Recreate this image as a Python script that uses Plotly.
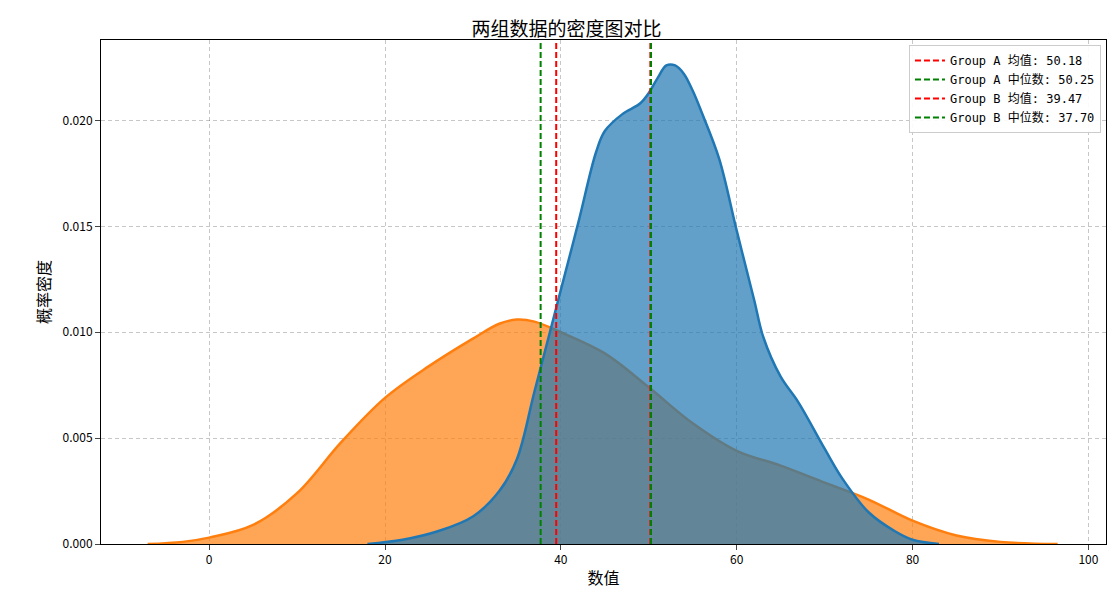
import plotly.graph_objects as go

# density curves
a_x = [18, 22, 26, 30, 33, 35, 37, 40, 42, 44, 45, 47, 49, 50, 51, 52, 53, 54, 55, 56, 58, 60, 62, 63, 65, 67, 70, 72, 75, 78, 80, 83]
a_y = [0, 0.0002, 0.0006, 0.0013, 0.0025, 0.0040, 0.0072, 0.012, 0.0152, 0.0185, 0.0195, 0.0203, 0.0208, 0.0213, 0.022, 0.0226, 0.0226, 0.0222, 0.0214, 0.0204, 0.0182, 0.0148, 0.0115, 0.0098, 0.0079, 0.0067, 0.0045, 0.0031, 0.0015, 0.0006, 0.0002, 0]
b_x = [-7, -3, 0, 5, 10, 15, 20, 25, 30, 33, 35, 37, 40, 45, 50, 55, 60, 65, 70, 75, 80, 85, 90, 96.5]
b_y = [0, 0.0001, 0.0003, 0.0009, 0.0024, 0.0048, 0.0069, 0.0084, 0.0097, 0.0104, 0.0106, 0.0105, 0.0100, 0.0090, 0.0074, 0.0057, 0.0044, 0.0037, 0.0029, 0.0021, 0.0011, 0.0004, 0.0001, 0]

lines = [("Group A 均值: 50.18", 50.18, "red"),
         ("Group A 中位数: 50.25", 50.25, "green"),
         ("Group B 均值: 39.47", 39.47, "red"),
         ("Group B 中位数: 37.70", 37.70, "green")]

fig = go.Figure()
fig.add_trace(go.Scatter(x=b_x, y=b_y, fill="tozeroy", mode="lines", line=dict(color="#ff7f0e", width=2.5, shape="spline"),
                         fillcolor="rgba(255,127,14,0.7)", showlegend=False))
fig.add_trace(go.Scatter(x=a_x, y=a_y, fill="tozeroy", mode="lines", line=dict(color="#1f77b4", width=2.5, shape="spline"),
                         fillcolor="rgba(31,119,180,0.7)", showlegend=False))
for name, v, c in lines:
    fig.add_trace(go.Scatter(x=[v, v], y=[0, 0.0238], mode="lines", name=name,
                             line=dict(color=c, width=2, dash="6px,3px")))

ax = dict(showline=True, linecolor="black", mirror=True, ticks="outside", zeroline=False,
          showgrid=True, gridcolor="rgba(0,0,0,0.22)", griddash="4px,3px", tickfont=dict(size=12, color="black"))
fig.update_layout(
    width=1117, height=605, plot_bgcolor="white", paper_bgcolor="white",
    margin=dict(l=93, r=19, t=32, b=69),
    font=dict(family="Noto Sans CJK SC, DejaVu Sans", color="black"),
    title=dict(text="两组数据的密度图对比", x=0.5, xanchor="center", y=0.975, font=dict(size=19)),
    xaxis=dict(ax, range=[-12.3, 102], tickvals=[0, 20, 40, 60, 80, 100], title=dict(text="数值", font=dict(size=16), standoff=6)),
    yaxis=dict(ax, range=[0, 0.0238], tickvals=[0, 0.005, 0.01, 0.015, 0.02], tickformat=".3f",
               title=dict(text="概率密度", font=dict(size=16), standoff=8)),
    legend=dict(x=0.995, y=0.99, xanchor="right", yanchor="top", bgcolor="rgba(255,255,255,0.9)",
                bordercolor="#ccc", borderwidth=1, font=dict(family="DejaVu Sans Mono, Noto Sans CJK SC", size=12)),
)
fig.write_html("out.html")
